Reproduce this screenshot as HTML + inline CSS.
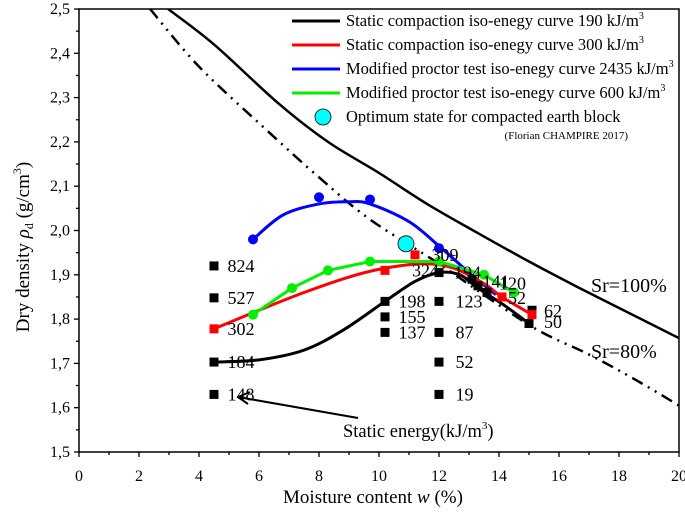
<!DOCTYPE html>
<html><head><meta charset="utf-8"><style>
body{margin:0;background:#fff}
svg text{font-family:"Liberation Serif",serif;fill:#000}
</style></head><body>
<svg id="chart" width="685" height="517" viewBox="0 0 685 517" xmlns="http://www.w3.org/2000/svg">
<g id="axes"></g>
<g id="marks"></g>
<g id="legend"></g>
</svg>
<script>
const xTicks=[0,2,4,6,8,10,12,14,16,18,20];
const yTicks=[1.5,1.6,1.7,1.8,1.9,2.0,2.1,2.2,2.3,2.4,2.5];
const yTickLabels=["1,5","1,6","1,7","1,8","1,9","2,0","2,1","2,2","2,3","2,4","2,5"];
const sr100W=[2.97,4.5,6.63,8.3,10,11.6,13.3,15,16.63,18.3,20];
const sr100D=[2.5,2.42,2.288,2.2,2.13,2.06,1.994,1.93,1.872,1.815,1.757];
const sr80W=[2.37,4,6.2,8,9.7,12,13.6,15.3,17,18.5,20];
const sr80D=[2.5,2.37,2.23,2.12,2.025,1.925,1.85,1.775,1.72,1.665,1.605];
const blueW=[5.8,6.8,8,9,9.7,11,12,13,13.9];
const blueD=[1.98,2.035,2.06,2.065,2.06,2.02,1.965,1.905,1.855];
const bluePtsW=[5.8,8,9.7,12];
const bluePtsD=[1.98,2.075,2.07,1.96];
const greenW=[5.8,7.1,8.3,9.7,12,13.5,14.5];
const greenD=[1.81,1.87,1.91,1.93,1.93,1.9,1.86];
const redW=[4.5,6,7.5,9,10.2,11.5,12.5,13.5,14.1,15.1];
const redD=[1.778,1.82,1.86,1.895,1.915,1.925,1.915,1.88,1.85,1.81];
const redPtsW=[4.5,10.2,11.2,14.1,15.1];
const redPtsD=[1.778,1.91,1.945,1.85,1.81];
const blackW=[4.5,6,7.5,8.8,10.2,11.2,12,12.7,13.3,14.2,15];
const blackD=[1.703,1.708,1.73,1.775,1.84,1.885,1.905,1.9,1.87,1.83,1.79];
const sqW=[4.5,4.5,4.5,4.5,10.2,10.2,10.2,12,12,12,12,12,13.1,13.3,13.6,15,15.1];
const sqD=[1.92,1.848,1.703,1.63,1.84,1.805,1.77,1.905,1.84,1.77,1.703,1.63,1.89,1.875,1.86,1.79,1.82];
const lblText=["824","527","302","184","148","198","155","137","324","309","194","123","87","52","19","141","120","52","62","50"];
const lblW=[4.95,4.95,4.95,4.95,4.95,10.65,10.65,10.65,11.1,11.75,12.5,12.55,12.55,12.55,12.55,13.45,14.0,14.3,15.5,15.5];
const lblD=[1.92,1.848,1.778,1.703,1.63,1.84,1.805,1.77,1.91,1.945,1.905,1.84,1.77,1.703,1.63,1.885,1.88,1.848,1.818,1.793];
const optW=[10.9], optD=[1.97];

const X0=79,X1=679,Y0=452,Y1=9;
const sx=v=>X0+(v-0)/(20-0)*(X1-X0);
const sy=v=>Y0-(v-1.5)/(2.5-1.5)*(Y0-Y1);
const NS="http://www.w3.org/2000/svg";
function mk(tag,attrs,parent){const e=document.createElementNS(NS,tag);for(const k in attrs)e.setAttribute(k,attrs[k]);parent.appendChild(e);return e;}
const axes=document.getElementById('axes'),marks=document.getElementById('marks'),leg=document.getElementById('legend');
let r=mk('rect',{x:X0,y:Y1,width:X1-X0,height:Y0-Y1,fill:'none',stroke:'#000','stroke-width':1.5},axes);

for(let i=0;i<=20;i++){const x=sx(i);const t=mk('line',{x1:x,x2:x,y1:Y0,y2:Y0+(i%2?3:5),stroke:'#000','stroke-width':1.3},axes);
}
xTicks.forEach(v=>{const t=mk('text',{x:sx(v),y:481,'font-size':16,'text-anchor':'middle'},axes);t.textContent=v;
});
for(let i=0;i<=20;i++){const y=sy(1.5+i*0.05);const t=mk('line',{x1:X0,x2:X0-(i%2?3:5),y1:y,y2:y,stroke:'#000','stroke-width':1.3},axes);
}
yTicks.forEach((v,i)=>{const t=mk('text',{x:70,y:sy(v)+5,'font-size':16,'text-anchor':'end'},axes);t.textContent=yTickLabels[i];
});
let xt=mk('text',{x:373,y:503,'font-size':19,'text-anchor':'middle'},axes);
xt.innerHTML='Moisture content <tspan font-style="italic">w</tspan> (%)';

let yt=mk('text',{x:0,y:0,'font-size':19,'text-anchor':'middle',transform:'translate(29,247) rotate(-90)'},axes);
yt.innerHTML='Dry density <tspan font-style="italic">ρ</tspan><tspan font-size="12" dy="4">d</tspan><tspan dy="-4"> (g/cm</tspan><tspan font-size="12" dy="-8">3</tspan><tspan dy="8">)</tspan>';


function smooth(ws,ds){const p=ws.map((w,i)=>[sx(w),sy(ds[i])]);let d=`M${p[0][0]},${p[0][1]}`;
for(let i=0;i<p.length-1;i++){const p0=p[i-1]||p[i],p1=p[i],p2=p[i+1],p3=p[i+2]||p2;
d+=` C${p1[0]+(p2[0]-p0[0])/6},${p1[1]+(p2[1]-p0[1])/6} ${p2[0]-(p3[0]-p1[0])/6},${p2[1]-(p3[1]-p1[1])/6} ${p2[0]},${p2[1]}`;}return d;}
const cp=mk('clipPath',{id:'clip'},marks);mk('rect',{x:X0,y:Y1,width:X1-X0,height:Y0-Y1},cp);
function curve(ws,ds,col,name,extra){const e=mk('path',Object.assign({d:smooth(ws,ds),fill:'none',stroke:col,'stroke-width':3,'clip-path':'url(#clip)'},extra||{}),marks);
}
curve(sr100W,sr100D,'#000','sr100-curve',{'stroke-width':2.5});
curve(sr80W,sr80D,'#000','sr80-curve',{'stroke-width':2.5,'stroke-dasharray':'12 6 2 6 2 6'});
curve(blackW,blackD,'#000','static-190-curve');
curve(blueW,blueD,'#0000ff','proctor-2435-curve');
curve(redW,redD,'#ff0000','static-300-curve');
sqW.forEach((w,i)=>{const e=mk('rect',{x:sx(w)-4.5,y:sy(sqD[i])-4.5,width:9,height:9,fill:'#000'},marks);
});
redPtsW.forEach((w,i)=>{const e=mk('rect',{x:sx(w)-4.5,y:sy(redPtsD[i])-4.5,width:9,height:9,fill:'#ff0000'},marks);
});
bluePtsW.forEach((w,i)=>{const e=mk('circle',{cx:sx(w),cy:sy(bluePtsD[i]),r:5,fill:'#0000ff'},marks);
});
const gl=mk('polyline',{points:greenW.map((w,i)=>sx(w)+','+sy(greenD[i])).join(' '),fill:'none',stroke:'#00ee00','stroke-width':3},marks);

greenW.forEach((w,i)=>{const e=mk('circle',{cx:sx(w),cy:sy(greenD[i]),r:5,fill:'#00ee00'},marks);
});
optW.forEach((w,i)=>{const e=mk('circle',{cx:sx(w),cy:sy(optD[i]),r:8,fill:'#00ffff',stroke:'#000','stroke-width':0.8},marks);
});
lblText.forEach((t,i)=>{const e=mk('text',{x:sx(lblW[i]),y:sy(lblD[i])+6,'font-size':18},marks);e.textContent=t;
});
let s1=mk('text',{x:591,y:292,'font-size':20},marks);s1.textContent='Sr=100%';
let s2=mk('text',{x:591,y:358,'font-size':20},marks);s2.textContent='Sr=80%';
let ar=mk('path',{d:'M358,418 L238,397 M238,397 L250,392 M238,397 L248,404',stroke:'#000','stroke-width':2,fill:'none'},marks);

let an=mk('text',{x:343,y:437,'font-size':18.5},marks);an.innerHTML='Static energy(kJ/m<tspan font-size="11" dy="-8">3</tspan><tspan dy="8">)</tspan>';


const legCols=['#000','#ff0000','#0000ff','#00ee00'];
const legText=['Static compaction iso-enegy curve 190 kJ/m','Static compaction iso-enegy curve 300 kJ/m','Modified proctor test iso-enegy curve 2435 kJ/m','Modified proctor test iso-enegy curve 600 kJ/m'];
legCols.forEach((c,i)=>{const y=21+i*24;const l=mk('line',{x1:292,x2:340,y1:y,y2:y,stroke:c,'stroke-width':3},leg);

const t=mk('text',{x:346,y:y+5,'font-size':16.5},leg);t.innerHTML=legText[i]+'<tspan font-size="10" dy="-7">3</tspan>';
});
let lc=mk('circle',{cx:323,cy:117,r:8,fill:'#00ffff',stroke:'#000','stroke-width':0.8},leg);

let lt=mk('text',{x:346,y:122,'font-size':16.5},leg);lt.textContent='Optimum state for compacted earth block';

let ct=mk('text',{x:628,y:139,'font-size':11,'text-anchor':'end'},leg);ct.textContent='(Florian CHAMPIRE 2017)';

</script>
</body></html>
